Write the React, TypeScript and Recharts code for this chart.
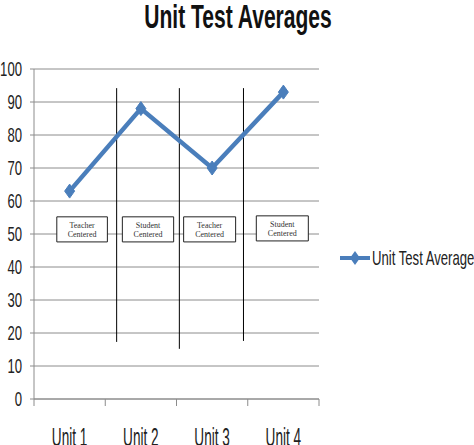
import React from "react";
import {
  CartesianGrid,
  Line,
  LineChart,
  ReferenceArea,
  ReferenceLine,
  XAxis,
  YAxis
} from "recharts";

const units = ["Unit 1", "Unit 2", "Unit 3", "Unit 4"];
const averages = [63, 88, 70, 93];
const yTicks = [0, 10, 20, 30, 40, 50, 60, 70, 80, 90, 100];
const unitEdges = [0.5, 1.5, 2.5, 3.5, 4.5];
const seriesName = "Unit Test Averages";
const title = "Unit Test Averages";

// hand-drawn annotations, in data units
const dividerX = [1.66, 2.54, 3.44];
const dividerBottom = [17.3, 15.2, 17.6];
const dividerTop = 94.2;
const boxLabels = [
  ["Teacher", "Centered"],
  ["Student", "Centered"],
  ["Teacher", "Centered"],
  ["Student", "Centered"]
];
const boxX1 = [0.82, 1.74, 2.6, 3.62];
const boxX2 = [1.53, 2.46, 3.33, 4.35];
const boxY1 = [47.6, 47.6, 47.6, 47.9];
const boxY2 = [55.2, 55.2, 55.2, 55.5];

const data = units.map((u, i) => ({ x: i + 1, name: u, score: averages[i] }));

const SANS = "'Liberation Sans', Arial, sans-serif";
const BLUE = "#4a7ebb";
const GRID = "#8c8c8c";
const BAND = 285 / 4;

function Diamond(props: any) {
  const { cx, cy } = props;
  if (cx == null || cy == null) return null;
  return (
    <polygon
      points={`${cx},${cy - 7} ${cx + 5},${cy} ${cx},${cy + 7} ${cx - 5},${cy}`}
      fill={BLUE}
      stroke={BLUE}
    />
  );
}

function YTick(props: any) {
  const { x, y, payload } = props;
  return (
    <text
      transform={`translate(${x},${y}) scale(0.82,1.25)`}
      textAnchor="end"
      dominantBaseline="central"
      fontFamily={SANS}
      fontSize={16}
      fill="#222"
    >
      {payload.value}
    </text>
  );
}

function XTick(props: any) {
  const { x, y, index } = props;
  if (index >= units.length) return null;
  return (
    <text
      transform={`translate(${x + BAND / 2},${y + 38}) scale(0.8,1.5)`}
      textAnchor="middle"
      fontFamily={SANS}
      fontSize={17}
      fill="#222"
    >
      {units[index]}
    </text>
  );
}

function BoxText(props: any) {
  const { viewBox, lines } = props;
  if (!viewBox) return null;
  const cx = viewBox.x + viewBox.width / 2;
  const cy = viewBox.y + viewBox.height / 2;
  return (
    <text
      x={cx}
      y={cy}
      textAnchor="middle"
      fontFamily="'Liberation Serif', serif"
      fontSize={8}
      fill="#333"
    >
      <tspan x={cx} dy={-1.5}>
        {lines[0]}
      </tspan>
      <tspan x={cx} dy={9}>
        {lines[1]}
      </tspan>
    </text>
  );
}

export default function App() {
  return (
    <div
      style={{
        position: "absolute",
        left: 0,
        top: 0,
        width: 474,
        height: 445,
        overflow: "hidden",
        background: "#fff"
      }}
    >
      <svg width={474} height={40} style={{ position: "absolute", left: 0, top: 0 }}>
        <text
          transform="translate(238,28) scale(0.81,1.3)"
          textAnchor="middle"
          fontFamily={SANS}
          fontWeight="bold"
          fontSize={26}
          fill="#111"
        >
          {title}
        </text>
      </svg>
      <LineChart
        width={474}
        height={445}
        data={data}
        margin={{ top: 69, right: 155, bottom: 0, left: 0 }}
      >
        <CartesianGrid horizontal vertical={false} stroke={GRID} strokeWidth={1} />
        <XAxis
          dataKey="x"
          type="number"
          domain={[0.5, 4.5]}
          ticks={unitEdges}
          interval={0}
          height={46}
          tickSize={7}
          tickLine={{ stroke: GRID }}
          axisLine={{ stroke: GRID }}
          tick={<XTick />}
        />
        <YAxis
          type="number"
          domain={[0, 100]}
          ticks={yTicks}
          interval={0}
          width={34}
          tickSize={4}
          tickMargin={8}
          tickLine={{ stroke: GRID }}
          axisLine={{ stroke: GRID }}
          tick={<YTick />}
        />
        {dividerX.map((dx, i) => (
          <ReferenceLine
            key={`d${i}`}
            segment={[
              { x: dx, y: dividerBottom[i] },
              { x: dx, y: dividerTop }
            ]}
            stroke="#000"
            strokeWidth={1}
            ifOverflow="visible"
          />
        ))}
        {boxLabels.map((lines, i) => (
          <ReferenceArea
            key={`b${i}`}
            x1={boxX1[i]}
            x2={boxX2[i]}
            y1={boxY1[i]}
            y2={boxY2[i]}
            fill="#fff"
            fillOpacity={1}
            stroke="#222"
            strokeWidth={1}
            ifOverflow="visible"
            label={(p: any) => <BoxText {...p} lines={lines} />}
          />
        ))}
        <Line
          dataKey="score"
          name={seriesName}
          stroke={BLUE}
          strokeWidth={4.5}
          dot={<Diamond />}
          activeDot={false}
          isAnimationActive={false}
        />
      </LineChart>
      <div
        style={{
          position: "absolute",
          left: 339,
          top: 249,
          display: "flex",
          alignItems: "center",
          whiteSpace: "nowrap"
        }}
      >
        <svg width={32} height={18}>
          <line x1={1} y1={9} x2={31} y2={9} stroke={BLUE} strokeWidth={4} />
          <polygon points="16,2 21,9 16,16 11,9" fill={BLUE} />
        </svg>
        <span
          style={{
            fontFamily: SANS,
            fontSize: 16,
            color: "#222",
            display: "inline-block",
            transform: "scale(0.82,1.3)",
            transformOrigin: "0 50%",
            marginLeft: 1
          }}
        >
          {seriesName}
        </span>
      </div>
    </div>
  );
}
